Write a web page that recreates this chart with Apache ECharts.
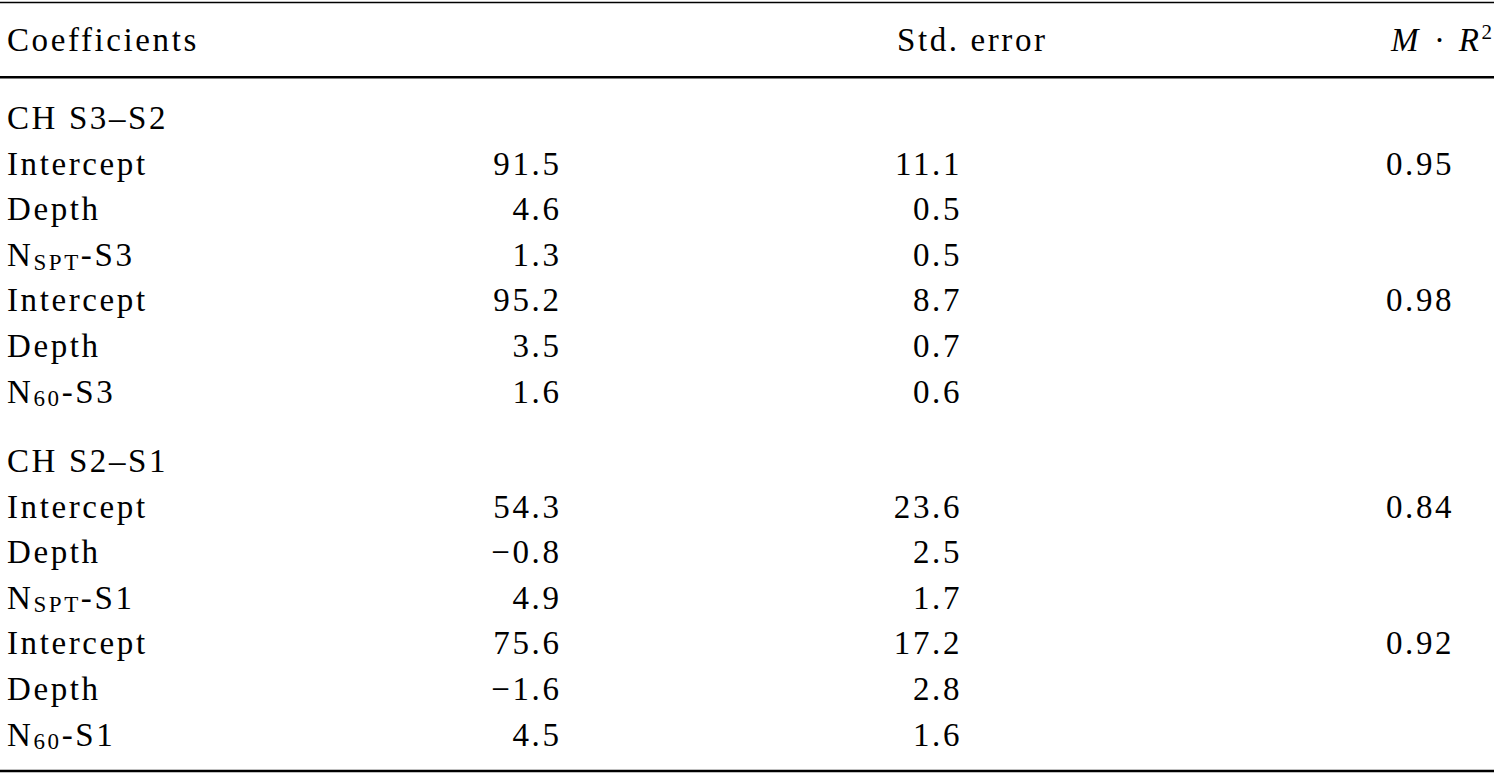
<!DOCTYPE html>
<html>
<head>
<meta charset="utf-8">
<script src="https://cdn.jsdelivr.net/npm/echarts@6/dist/echarts.min.js"></script>
<style>
html, body { margin: 0; padding: 0; background: #fff; overflow: hidden; }
#chart { width: 1494px; height: 781px; }
#chart text, #chart tspan { letter-spacing: 2.6px; }
</style>
</head>
<body>
<div id="chart"></div>
<script>
// ---------------- data ----------------
const headerLabels = ['Coefficients', 'Std. error', '*M* \u00b7 *R*^{2}'];
const sectionNames = ['CH S3\u2013S2', 'CH S2\u2013S1'];

const s1Terms  = ['Intercept', 'Depth', 'N_{SPT}-S3', 'Intercept', 'Depth', 'N_{60}-S3'];
const s1Coef   = [91.5, 4.6, 1.3, 95.2, 3.5, 1.6];
const s1StdErr = [11.1, 0.5, 0.5, 8.7, 0.7, 0.6];
const s1R2     = [0.95, null, null, 0.98, null, null];

const s2Terms  = ['Intercept', 'Depth', 'N_{SPT}-S1', 'Intercept', 'Depth', 'N_{60}-S1'];
const s2Coef   = [54.3, -0.8, 4.9, 75.6, -1.6, 4.5];
const s2StdErr = [23.6, 2.5, 1.7, 17.2, 2.8, 1.6];
const s2R2     = [0.84, null, null, 0.92, null, null];

// ---------------- layout ----------------
const W = 1494, H = 781;
const LETTER_SPACING = 2.6;
const FONT = 'Liberation Serif, Times New Roman, serif';
const LAYOUT = {
  rowPx: 45.6,
  row0Px: 118,
  headerRow: -1.711,
  section2Row: 7.52,
  rules: [ { row: -2.533, w: 1.5 }, { row: -0.8925, w: 2.6 }, { row: 14.32, w: 2.6 } ],
  headerCols: [ { x: 7, align: 'left' }, { x: 897, align: 'left' }, { x: 1391, align: 'left' } ],
  cols: {
    label: { x: 7, align: 'left' },
    coef:  { x: 561.5, align: 'right' },
    se:    { x: 962, align: 'right' },
    r2:    { x: 1386, align: 'left' }
  }
};

// make zrender's text measuring aware of the letter spacing used in the page
if (echarts.setPlatformAPI) {
  const mctx = document.createElement('canvas').getContext('2d');
  echarts.setPlatformAPI({
    measureText(text, font) {
      mctx.font = font || '12px sans-serif';
      const m = mctx.measureText(text);
      return {
        width: m.width + Array.from(text || '').length * LETTER_SPACING,
        actualBoundingBoxAscent: m.actualBoundingBoxAscent,
        actualBoundingBoxDescent: m.actualBoundingBoxDescent
      };
    }
  });
}

const RICH = {
  n:   { fontFamily: FONT, fontSize: 33, lineHeight: 40, fill: '#000' },
  it:  { fontFamily: FONT, fontSize: 33, lineHeight: 40, fontStyle: 'italic', fill: '#000' },
  g1:  { fontFamily: FONT, fontSize: 33, lineHeight: 40, width: 13 },
  g2:  { fontFamily: FONT, fontSize: 33, lineHeight: 40, width: 11 },
  sub: { fontFamily: FONT, fontSize: 23, lineHeight: 23, verticalAlign: 'bottom', fill: '#000' },
  sup: { fontFamily: FONT, fontSize: 21, lineHeight: 20, verticalAlign: 'top', fill: '#000' }
};

function toRich(label) {
  const parts = label.split(/(_\{[^}]*\}|\^\{[^}]*\}|\*[^*]+\*| \u00b7 )/);
  return parts.map(p => {
    if (!p) return '';
    if (p === ' \u00b7 ') return '{g1| }{n|\u00b7}{g2| }';
    if (p.startsWith('_{')) return '{sub|' + p.slice(2, -1) + '}';
    if (p.startsWith('^{')) return '{sup|' + p.slice(2, -1) + '}';
    if (p.startsWith('*')) return '{it|' + p.slice(1, -1) + '}';
    return '{n|' + p + '}';
  }).join('');
}
const fmt1 = v => (v < 0 ? '\u2212' : '') + Math.abs(v).toFixed(1);
const fmt2 = v => v.toFixed(2);

// ---------------- cells ----------------
const cells = [];
headerLabels.forEach((t, i) => {
  cells.push({ x: LAYOUT.headerCols[i].x, row: LAYOUT.headerRow, text: toRich(t), align: LAYOUT.headerCols[i].align });
});
const sections = [
  { name: sectionNames[0], terms: s1Terms, coef: s1Coef, se: s1StdErr, r2: s1R2, start: 0 },
  { name: sectionNames[1], terms: s2Terms, coef: s2Coef, se: s2StdErr, r2: s2R2, start: LAYOUT.section2Row }
];
const C = LAYOUT.cols;
sections.forEach(s => {
  cells.push({ x: C.label.x, row: s.start, text: toRich(s.name), align: C.label.align });
  s.terms.forEach((t, i) => {
    const r = s.start + 1 + i;
    cells.push({ x: C.label.x, row: r, text: toRich(t), align: C.label.align });
    cells.push({ x: C.coef.x, row: r, text: toRich(fmt1(s.coef[i])), align: C.coef.align });
    cells.push({ x: C.se.x, row: r, text: toRich(fmt1(s.se[i])), align: C.se.align });
    if (s.r2[i] != null) cells.push({ x: C.r2.x, row: r, text: toRich(fmt2(s.r2[i])), align: C.r2.align });
  });
});

// ---------------- chart ----------------
const chart = echarts.init(document.getElementById('chart'), null, { renderer: 'svg' });
chart.setOption({
  animation: false,
  backgroundColor: '#fff',
  grid: { left: 0, right: 0, top: 0, bottom: 0, containLabel: false },
  xAxis: { type: 'value', min: 0, max: W, show: false },
  yAxis: {
    type: 'value', inverse: true, show: false,
    min: -LAYOUT.row0Px / LAYOUT.rowPx,
    max: (H - LAYOUT.row0Px) / LAYOUT.rowPx
  },
  series: [
    {
      type: 'custom',
      name: 'rules',
      silent: true,
      data: LAYOUT.rules.map(r => [r.row]),
      renderItem(params, api) {
        const r = LAYOUT.rules[params.dataIndex];
        const a = api.coord([0, api.value(0)]);
        const b = api.coord([W, api.value(0)]);
        return { type: 'line', shape: { x1: a[0], y1: a[1], x2: b[0], y2: b[1] }, style: { stroke: '#000', lineWidth: r.w } };
      }
    },
    {
      type: 'custom',
      name: 'cells',
      silent: true,
      data: cells.map(c => [c.x, c.row]),
      renderItem(params, api) {
        const c = cells[params.dataIndex];
        const p = api.coord([api.value(0), api.value(1)]);
        return {
          type: 'text',
          x: p[0], y: p[1],
          style: {
            text: c.text,
            rich: RICH,
            fontFamily: FONT,
            fontSize: 33,
            lineHeight: 40,
            fill: '#000',
            align: c.align,
            verticalAlign: 'middle'
          }
        };
      }
    }
  ]
});
</script>
</body>
</html>
